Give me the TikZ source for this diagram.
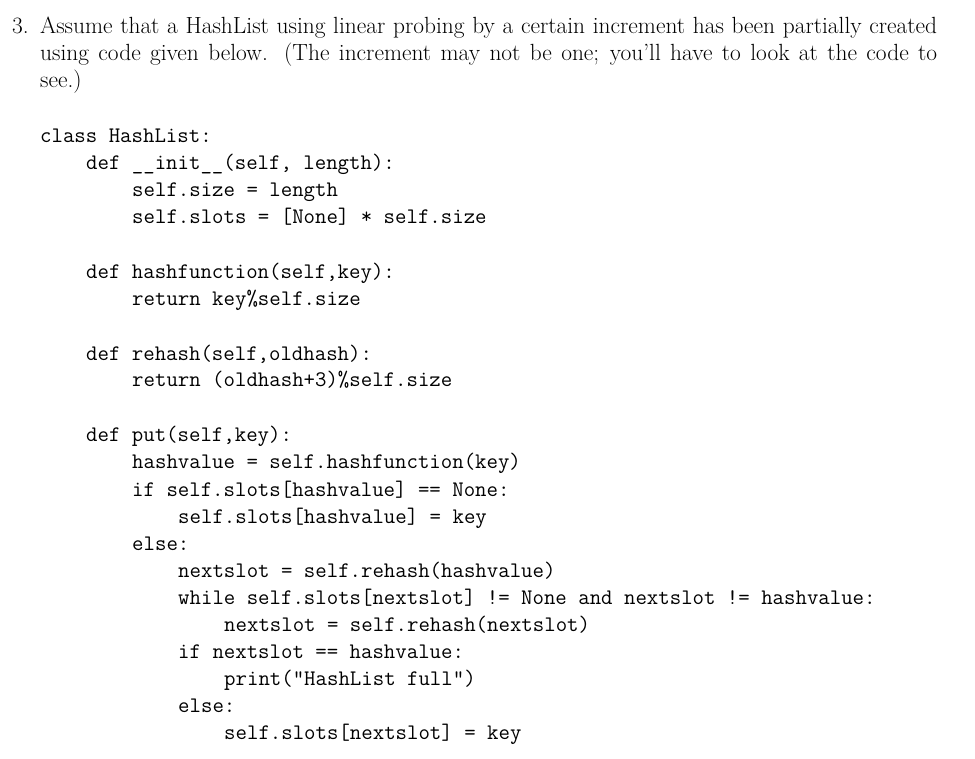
\documentclass[tikz,border=0pt]{standalone}
\usepackage{fontspec}
\begin{document}
\begin{tikzpicture}[x=1pt,y=-1pt,
  pl/.style={anchor=base west,inner sep=0pt,font=\fontsize{23.4}{27}\selectfont},
  cl/.style={anchor=base west,inner sep=0pt,font=\fontsize{22.2}{27}\selectfont\ttfamily}]
\useasboundingbox[fill=white] (0,0) rectangle (975,759);
\node[pl] (p1) at (12,34) {\makebox[925pt][s]{3. Assume that a HashList using linear probing by a certain increment has been partially created}};
\node[pl] (p2) at (40,61) {\makebox[897pt][s]{using code given below. (The increment may not be one; you'll have to look at the code to}};
\node[pl] (p3) at (40,88) {see.)};
\node[cl] (c1) at (40,143) {class HashList:};
\node[cl] (c2) at (86,170) {def \_\_init\_\_(self, length):};
\node[cl] (c3) at (132,197) {self.size = length};
\node[cl] (c4) at (132,224) {self.slots = [None] * self.size};
\node[cl] (c5) at (86,279) {def hashfunction(self,key):};
\node[cl] (c6) at (132,306) {return key\%self.size};
\node[cl] (c7) at (86,360) {def rehash(self,oldhash):};
\node[cl] (c8) at (132,387) {return (oldhash+3)\%self.size};
\node[cl] (c9) at (86,441) {def put(self,key):};
\node[cl] (c10) at (132,468) {hashvalue = self.hashfunction(key)};
\node[cl] (c11) at (132,496) {if self.slots[hashvalue] == None:};
\node[cl] (c12) at (178,523) {self.slots[hashvalue] = key};
\node[cl] (c13) at (132,550) {else:};
\node[cl] (c14) at (178,577) {nextslot = self.rehash(hashvalue)};
\node[cl] (c15) at (178,604) {while self.slots[nextslot] != None and nextslot != hashvalue:};
\node[cl] (c16) at (224,631) {nextslot = self.rehash(nextslot)};
\node[cl] (c17) at (178,658) {if nextslot == hashvalue:};
\node[cl] (c18) at (224,685) {print("HashList full")};
\node[cl] (c19) at (178,712) {else:};
\node[cl] (c20) at (224,739) {self.slots[nextslot] = key};
\end{tikzpicture}
\end{document}
